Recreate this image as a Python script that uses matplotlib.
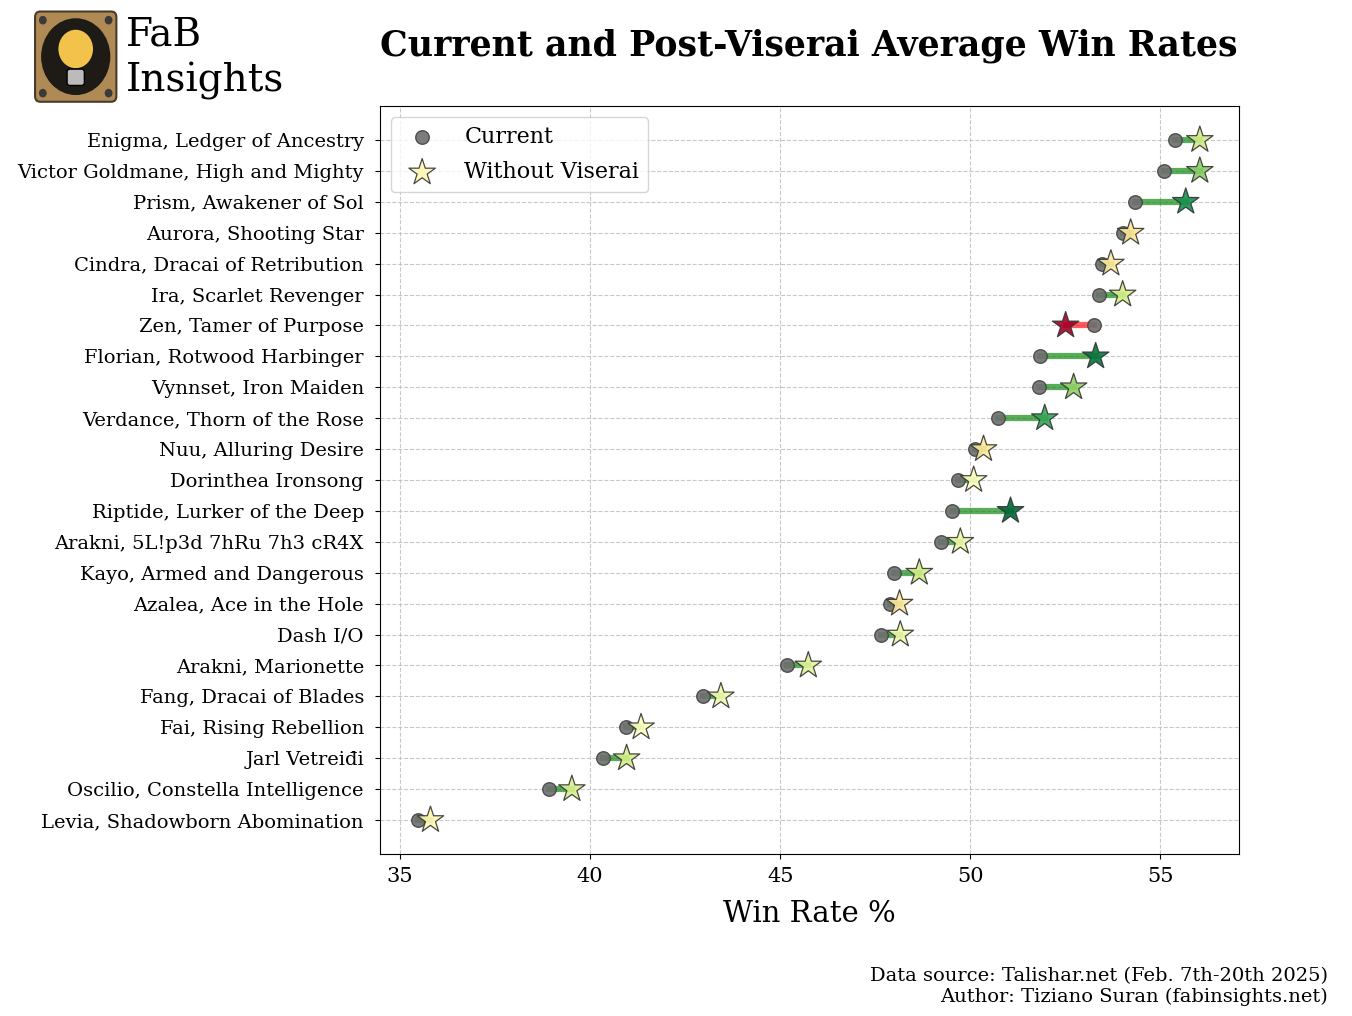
import numpy as np
import matplotlib
matplotlib.use("Agg")
import matplotlib.pyplot as plt
from matplotlib.patches import FancyBboxPatch, Circle

heroes = [
    "Enigma, Ledger of Ancestry",
    "Victor Goldmane, High and Mighty",
    "Prism, Awakener of Sol",
    "Aurora, Shooting Star",
    "Cindra, Dracai of Retribution",
    "Ira, Scarlet Revenger",
    "Zen, Tamer of Purpose",
    "Florian, Rotwood Harbinger",
    "Vynnset, Iron Maiden",
    "Verdance, Thorn of the Rose",
    "Nuu, Alluring Desire",
    "Dorinthea Ironsong",
    "Riptide, Lurker of the Deep",
    "Arakni, 5L!p3d 7hRu 7h3 cR4X",
    "Kayo, Armed and Dangerous",
    "Azalea, Ace in the Hole",
    "Dash I/O",
    "Arakni, Marionette",
    "Fang, Dracai of Blades",
    "Fai, Rising Rebellion",
    "Jarl Vetreiđi",
    "Oscilio, Constella Intelligence",
    "Levia, Shadowborn Abomination",
]
current = [55.38, 55.09, 54.33, 54.01, 53.46, 53.38, 53.25, 51.83, 51.80, 50.74,
           50.12, 49.69, 49.53, 49.24, 48.00, 47.90, 47.66, 45.18, 42.97, 40.94,
           40.33, 38.91, 35.46]
without_viserai = [56.04, 56.04, 55.67, 54.22, 53.70, 54.01, 52.51, 53.30, 52.72, 51.96,
                   50.35, 50.09, 51.06, 49.74, 48.66, 48.14, 48.16, 45.74, 43.44, 41.34,
                   40.96, 39.52, 35.80]

plt.rcParams['font.family'] = ['DejaVu Serif']

# bottom row first, so the first point drawn is the last hero
cur = np.array(current[::-1])
wov = np.array(without_viserai[::-1])
names = heroes[::-1]
ypos = np.arange(len(names))
diff = wov - cur

norm = plt.Normalize(diff.min(), diff.max())
cmap = plt.get_cmap("RdYlGn")

fig = plt.figure(figsize=(13.52, 10.16), dpi=100)
ax = fig.add_axes([0.281, 0.1594, 0.6354, 0.7363])

for y, c, w, d in zip(ypos, cur, wov, diff):
    ax.plot([c, w], [y, y], color="green" if d > 0 else "red",
            alpha=0.65, linewidth=4.5, zorder=2)

ax.scatter(cur, ypos, s=95, color="#6e6e6e", edgecolor="#444444",
           alpha=0.9, zorder=3, label="Current")
ax.scatter(wov, ypos, s=400, marker="*", c=diff, cmap=cmap, norm=norm,
           edgecolor="#333333", linewidth=0.9, alpha=0.9, zorder=4,
           label="Without Viserai")

ax.set_yticks(ypos)
ax.set_yticklabels(names, fontsize=14)
ax.tick_params(axis="y", pad=8)
ax.set_ylim(-1.1, len(names) - 1 + 1.1)
ax.set_xlim(34.47, 57.07)
ax.set_xticks([35, 40, 45, 50, 55])
ax.tick_params(axis="x", labelsize=15, pad=6)
ax.set_xlabel("Win Rate %", fontsize=21, labelpad=10)
ax.grid(True, linestyle="--", color="#bbbbbb", alpha=0.8)
ax.set_axisbelow(True)

ax.legend(loc="upper left", fontsize=16, borderpad=0.4, handletextpad=0.9,
          labelspacing=0.6)

fig.text(0.5985, 0.955, "Current and Post-Viserai Average Win Rates",
         ha="center", va="center", fontsize=25, fontweight="bold")

# logo placeholder
logo = fig.add_axes([0.024, 0.897, 0.064, 0.0945])
logo.set_xlim(0, 1)
logo.set_ylim(0, 1)
logo.axis("off")
logo.add_patch(FancyBboxPatch((0.03, 0.03), 0.94, 0.94, boxstyle="round,pad=0.0,rounding_size=0.06",
                              facecolor="#b08a55", edgecolor="#4a3a2a", linewidth=1.5))
logo.add_patch(Circle((0.5, 0.5), 0.4, facecolor="#1e1a16"))
logo.add_patch(Circle((0.5, 0.58), 0.2, facecolor="#f3c24a"))
logo.add_patch(FancyBboxPatch((0.4, 0.2), 0.2, 0.17, boxstyle="round,pad=0.0,rounding_size=0.03",
                              facecolor="#bbbbbb"))
for cx, cy in [(0.12, 0.88), (0.88, 0.88), (0.12, 0.12), (0.88, 0.12)]:
    logo.add_patch(Circle((cx, cy), 0.045, facecolor="#3a3a3a"))

fig.text(0.093, 0.966, "FaB", fontsize=28, va="center", ha="left")
fig.text(0.093, 0.920, "Insights", fontsize=28, va="center", ha="left")

fig.text(0.982, 0.029, "Data source: Talishar.net (Feb. 7th-20th 2025)\nAuthor: Tiziano Suran (fabinsights.net)",
         ha="right", va="center", fontsize=14, linespacing=1.15)

fig.savefig("out.png", dpi=100)
